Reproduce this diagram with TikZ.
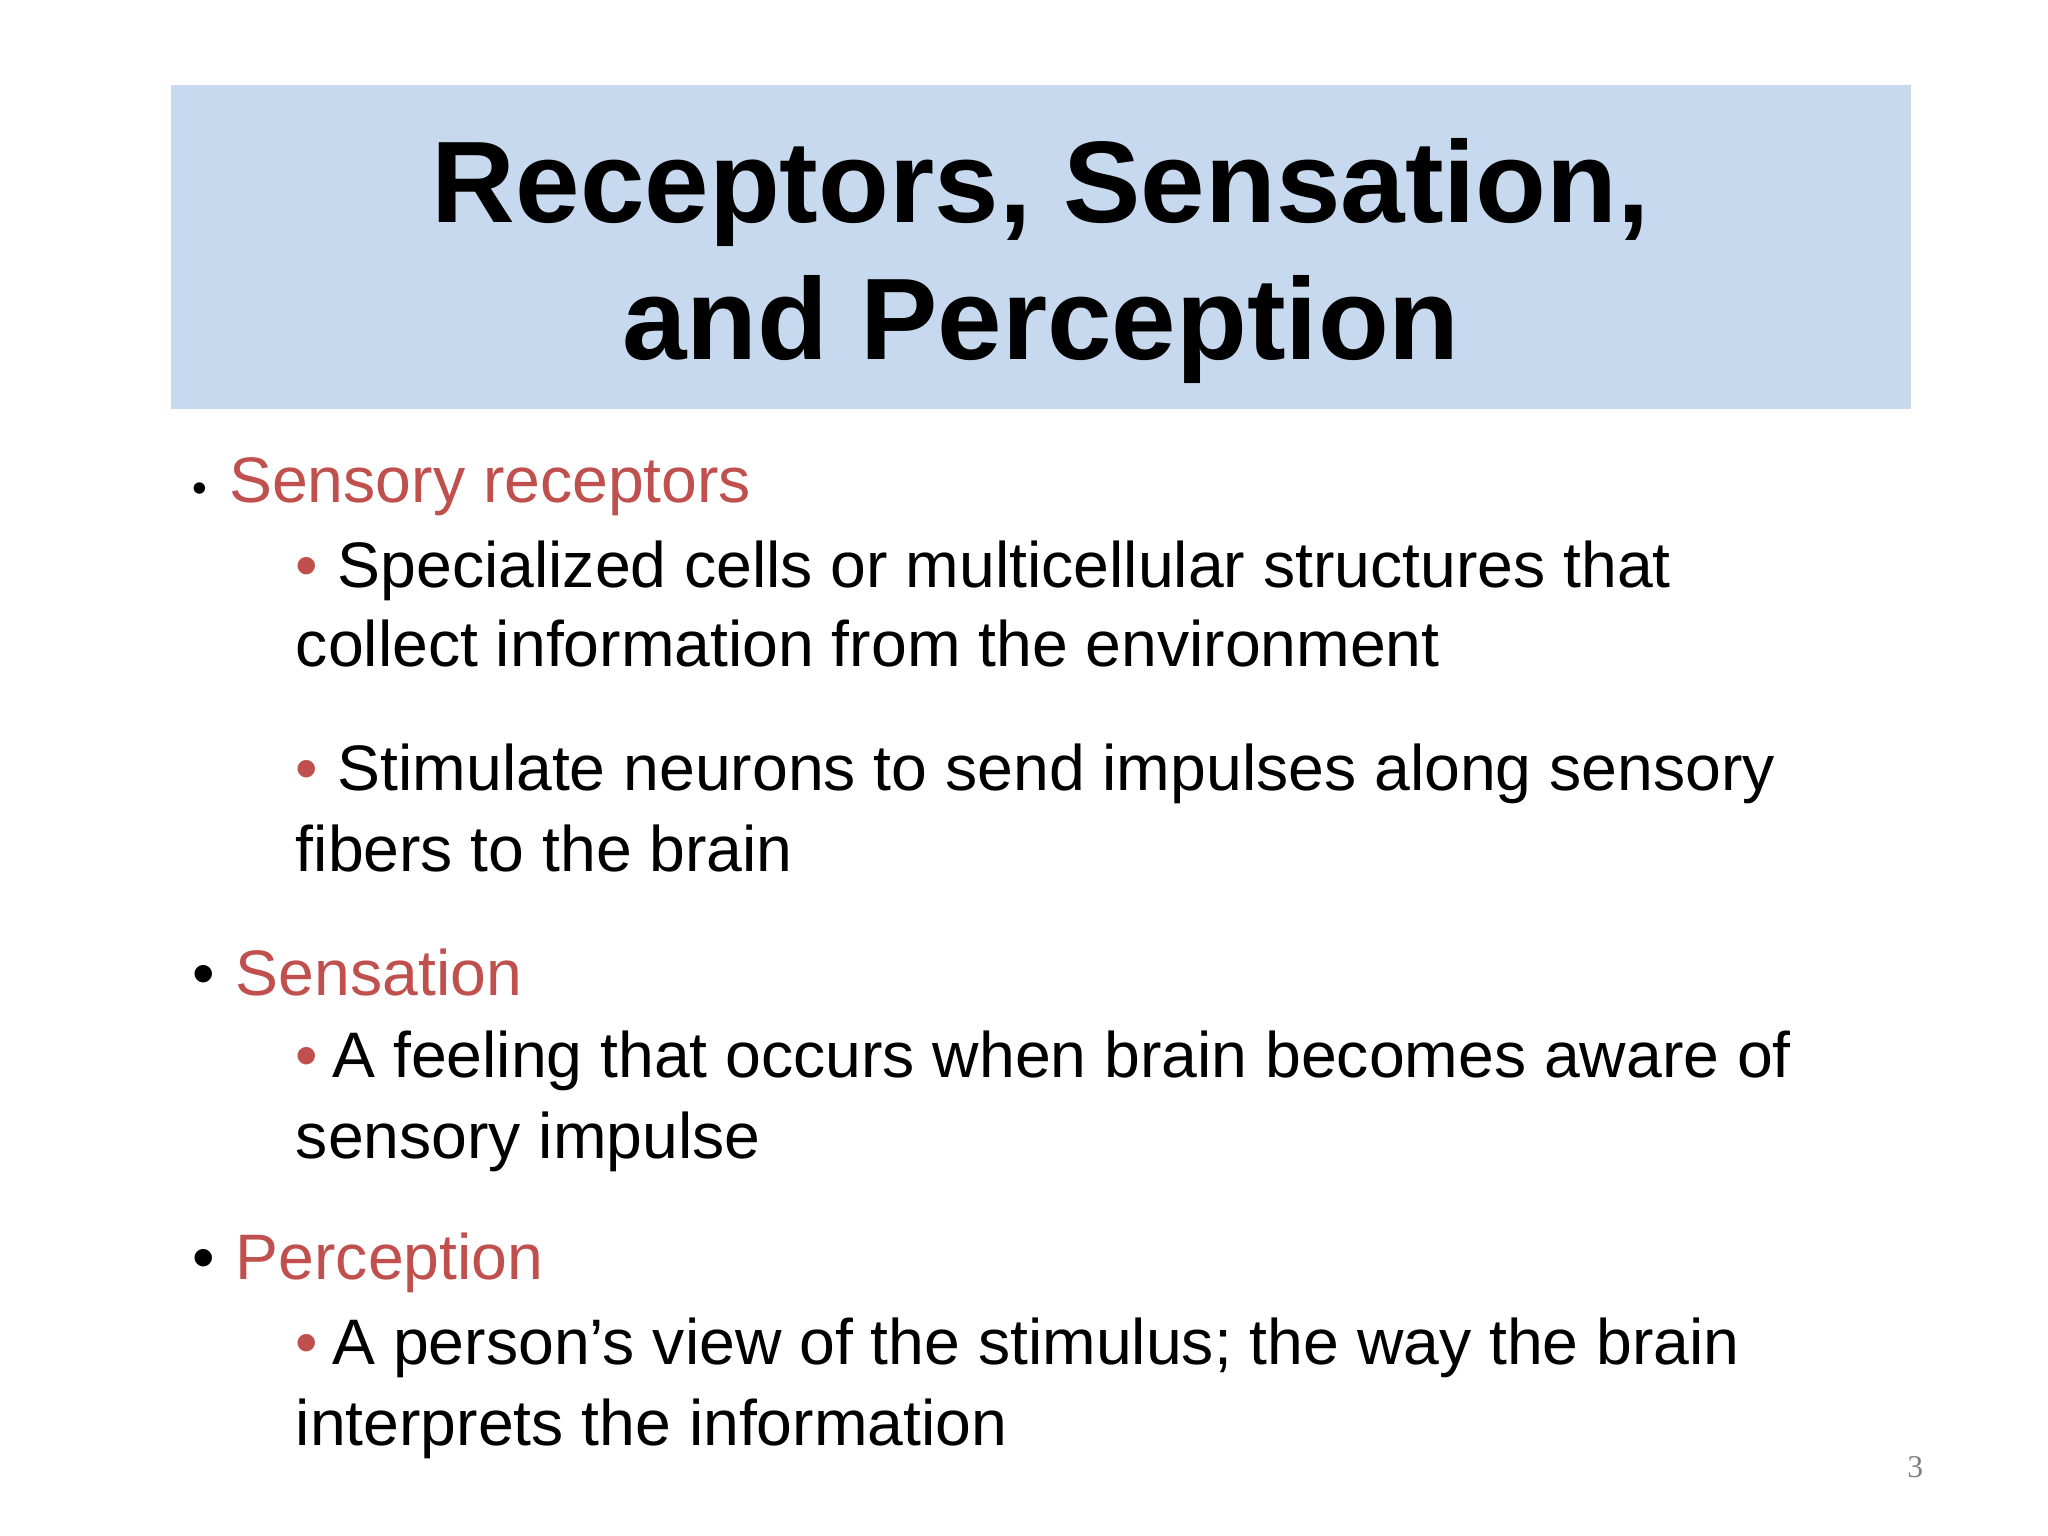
\documentclass[tikz,border=0pt]{standalone}
\usepackage{fontspec}
\setmainfont{Liberation Sans}
\newfontfamily\pnfont{Liberation Serif}
\definecolor{titlebg}{HTML}{C6D9EE}
\definecolor{accent}{HTML}{C0504D}
\begin{document}
\begin{tikzpicture}[x=0.01306cm,y=-0.01306cm,
  body/.style={anchor=base west,inner sep=0pt,font=\fontsize{18.3}{22}\selectfont},
  head/.style={body,text=accent},
  ttl/.style={anchor=base,inner sep=0pt,font=\fontsize{33}{38}\selectfont\bfseries}]
\useasboundingbox (0,0) rectangle (1568,1176);
\fill[white] (0,0) rectangle (1568,1176);
\fill[titlebg] (131,65) rectangle (1463,313);
\node[ttl] (t1) at (797,170) {Receptors, Sensation,};
\node[ttl] (t2) at (797,275) {and Perception};
% level 1
\node[body,font=\fontsize{12}{14}\selectfont] (b1) at (147,385) {•};
\node[head] (h1) at (175,385) {Sensory receptors};
\node[body,text=accent] (s1) at (226,450) {•};
\node[body] (l1) at (258,450) {Specialized cells or multicellular structures that};
\node[body] (l2) at (226,510) {collect information from the environment};
\node[body,text=accent] (s2) at (226,605) {•};
\node[body] (l3) at (258,605) {Stimulate neurons to send impulses along sensory};
\node[body] (l4) at (226,667) {fibers to the brain};
\node[body] (b2) at (147,762) {•};
\node[head] (h2) at (180,762) {Sensation};
\node[body,text=accent] (s3) at (226,825) {•};
\node[body] (l5) at (254,825) {A feeling that occurs when brain becomes aware of};
\node[body] (l6) at (226,887) {sensory impulse};
\node[body] (b3) at (147,980) {•};
\node[head] (h3) at (180,980) {Perception};
\node[body,text=accent] (s4) at (226,1045) {•};
\node[body] (l7) at (254,1045) {A person’s view of the stimulus; the way the brain};
\node[body] (l8) at (226,1107) {interprets the information};
\node[anchor=base east,inner sep=0pt,text=gray,font=\pnfont\fontsize{9}{11}\selectfont] (pn) at (1473,1131) {3};
\end{tikzpicture}
\end{document}
